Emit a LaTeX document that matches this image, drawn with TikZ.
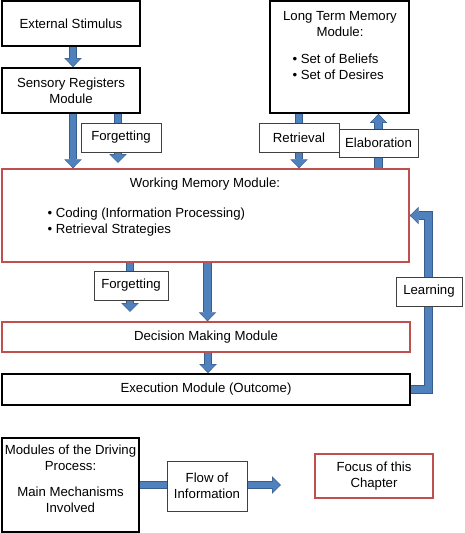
\documentclass[tikz,border=0pt]{standalone}
\usepackage{fontspec}
\setmainfont{Liberation Sans}
\usetikzlibrary{arrows.meta,positioning,backgrounds}
\definecolor{flowfill}{HTML}{4F81BD}
\definecolor{flowedge}{HTML}{385D8A}
\definecolor{focusred}{HTML}{C0504D}
\tikzset{
  module/.style={draw=black, line width=1.8pt, fill=white, align=center, inner sep=0pt},
  focus/.style={draw=focusred, line width=1.4pt, fill=white, align=center, inner sep=0pt},
  tag/.style={draw=black!75, line width=0.9pt, fill=white, align=center, inner sep=0pt},
  flow/.style={draw=flowfill, line width=6.5pt, shorten >=1pt,
    -{Triangle[width=15pt,length=7.5pt,line width=0pt]},
    preaction={draw=flowedge, line width=8.5pt, shorten >=0pt,
      -{Triangle[width=17.5pt,length=9pt,line width=0pt]}}}
}
\begin{document}
\begin{tikzpicture}[x=1pt, y=-1pt, font=\fontsize{13.2}{16}\selectfont]
\useasboundingbox (0,0) rectangle (465,533);
\node[module, minimum width=138pt, minimum height=45pt] (stimulus) at (71,23.5) {External Stimulus};
\node[module, minimum width=138pt, minimum height=45pt] (sensory) at (71,90.5) {Sensory Registers\\Module};
\node[module, minimum width=139pt, minimum height=112pt] (ltm) at (339.5,57) {};
\node[align=center] (ltmtitle) at (340,24) {Long Term Memory\\Module:};
\node[align=left, anchor=west] (ltmlist) at (289,67) {\textbullet\ Set of Beliefs\\\textbullet\ Set of Desires};
\node[focus, minimum width=407pt, minimum height=93pt] (working) at (205.5,215.5) {};
\node (workingtitle) at (205,184) {Working Memory Module:};
\node[align=left, anchor=west] (workinglist) at (44,222) {\textbullet\ Coding (Information Processing)\\\textbullet\ Retrieval Strategies};
\node[focus, minimum width=408pt, minimum height=30pt] (decision) at (206,337) {Decision Making Module};
\node[module, minimum width=408pt, minimum height=31pt] (execution) at (206,389.5) {Execution Module (Outcome)};
\node[tag, minimum width=80pt, minimum height=29pt] (forgetsr) at (121,137.5) {Forgetting};
\node[tag, minimum width=80pt, minimum height=29pt] (retrieval) at (299,137.5) {Retrieval};
\node[tag, minimum width=79pt, minimum height=28pt] (elaboration) at (378.5,143) {Elaboration};
\node[tag, minimum width=74pt, minimum height=29pt] (forgetwm) at (131,285.5) {Forgetting};
\node[tag, minimum width=66pt, minimum height=29pt] (learning) at (429,291.5) {Learning};
\node[module, minimum width=137pt, minimum height=94pt] (legend) at (70.5,485) {};
\node[align=center] (legendtext) at (70.5,479) {Modules of the Driving\\Process:\\[10pt]Main Mechanisms\\Involved};
\node[tag, minimum width=80pt, minimum height=50pt] (flowkey) at (207,486) {Flow of\\Information};
\node[focus, minimum width=118pt, minimum height=44pt] (focuskey) at (374,476) {Focus of this\\Chapter};
\coordinate (forgetsrend) at (118,163);
\coordinate (forgetwmend) at (130,312);
\coordinate (flowend) at (281,485);
\begin{scope}[on background layer]
\draw[flow] ([xshift=2pt]stimulus.south) -- ([xshift=2pt]sensory.north);
\draw[flow] ([xshift=2pt]sensory.south) -- ([xshift=2pt]sensory.south |- working.north);
\draw[flow] (sensory.south -| forgetsrend) -- (forgetsrend);
\draw[flow] (ltm.south -| retrieval) -- (working.north -| retrieval);
\draw[flow] (working.north -| elaboration) -- (ltm.south -| elaboration);
\draw[flow] ([xshift=2pt]working.south) -- ([xshift=2pt]working.south |- decision.north);
\draw[flow] (working.south -| forgetwmend) -- (forgetwmend);
\draw[flow] ([xshift=2pt]decision.south) -- ([xshift=2pt]decision.south |- execution.north);
\draw[flow] (execution.east) -| ([xshift=19pt]working.east) -- (working.east);
\draw[flow] (legend.east) -- (flowend);
\end{scope}
\end{tikzpicture}
\end{document}
